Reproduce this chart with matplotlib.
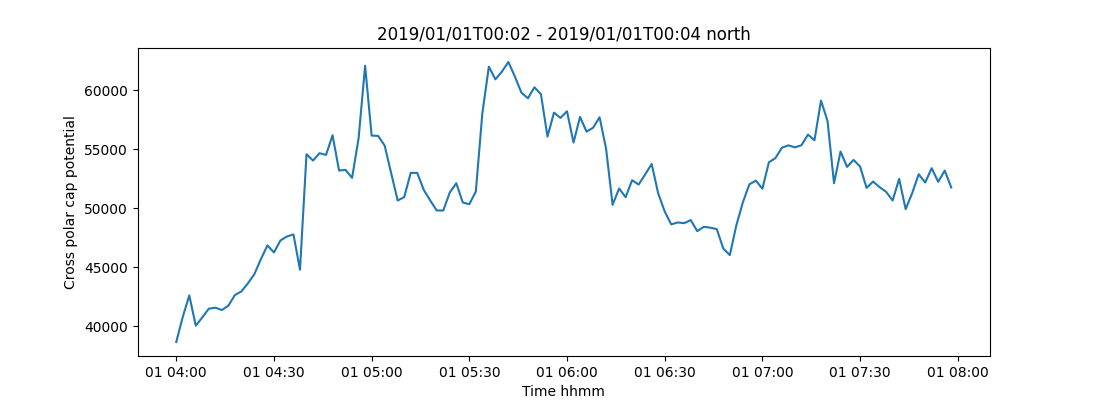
import numpy as np
import pandas as pd
import matplotlib
matplotlib.use("Agg")
from matplotlib import pyplot as plt
import matplotlib.dates as mdates

# cross polar cap potential, one value every 2 minutes from 04:00
start_time = "2019-01-01 04:00"
step = "2min"
cpcp = [
    38675, 40800, 42623, 40056, 40761, 41495, 41580, 41382, 41748, 42650,
    42961, 43638, 44427, 45696, 46853, 46260, 47276, 47614, 47783, 44794,
    54579, 54044, 54664, 54523, 56187, 53198, 53254, 52577, 55933, 62081,
    56159, 56130, 55313, 52972, 50660, 50942, 53000, 53000, 51562, 50660,
    49814, 49814, 51336, 52126, 50490, 50349, 51421, 58048, 61996, 60924,
    61573, 62391, 61150, 59796, 59317, 60248, 59655, 56074, 58104, 57653,
    58217, 55566, 57738, 56497, 56820, 57710, 55050, 50293, 51675, 50942,
    52380, 52010, 52870, 53750, 51265, 49730, 48640, 48800, 48740, 49000,
    48065, 48430, 48360, 48235, 46585, 46035, 48560, 50500, 52030, 52340,
    51660, 53900, 54250, 55130, 55330, 55160, 55341, 56243, 55764, 59120,
    57399, 52126, 54805, 53508, 54100, 53536, 51731, 52267, 51788, 51393,
    50660, 52493, 49926, 51280, 52887, 52182, 53395, 52239, 53198, 51760,
]

title = "2019/01/01T00:02 - 2019/01/01T00:04 north"

times = pd.date_range(start_time, periods=len(cpcp), freq=step)

fig, ax = plt.subplots(figsize=(11, 4), dpi=100)
ax.plot(times, cpcp)
ax.xaxis.set_major_locator(mdates.MinuteLocator(byminute=[0, 30]))
ax.xaxis.set_major_formatter(mdates.DateFormatter("%d %H:%M"))
ax.set_title(title)
ax.set_xlabel("Time hhmm")
ax.set_ylabel("Cross polar cap potential")

plt.savefig("out.png")
